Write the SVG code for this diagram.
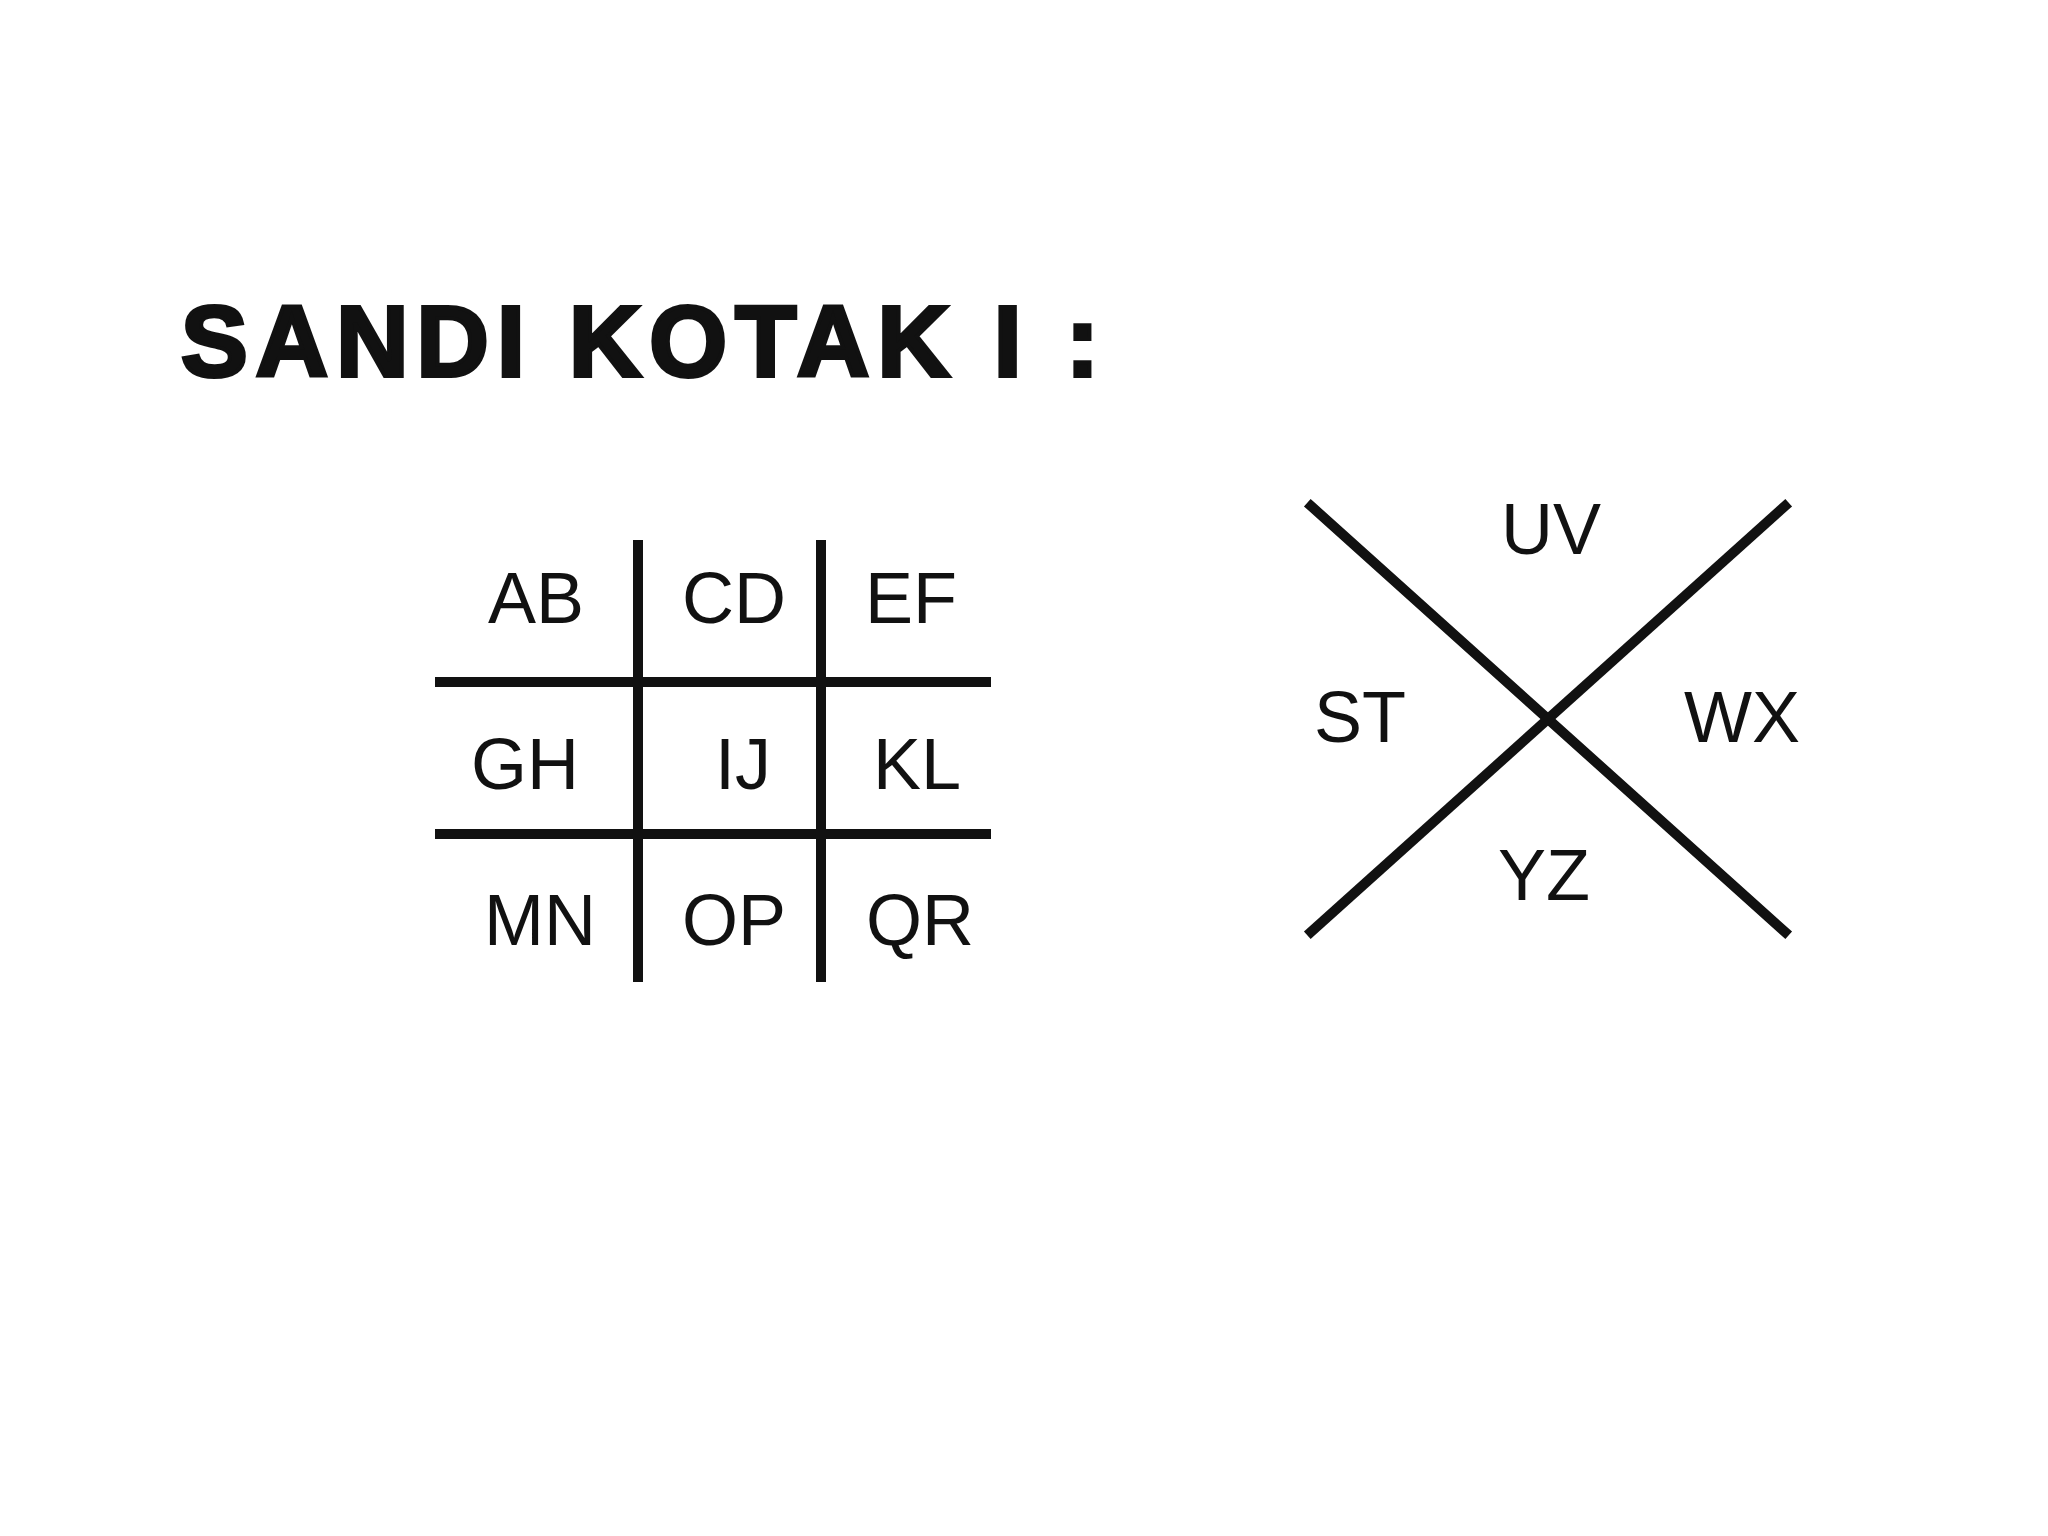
<svg xmlns="http://www.w3.org/2000/svg" width="2048" height="1536" viewBox="0 0 2048 1536">
<style>
.t{font-family:"Liberation Sans",Arial,sans-serif;font-size:72px;fill:#111;text-anchor:middle}
.l{stroke:#111;stroke-width:10;stroke-linecap:square}
</style>
<rect width="2048" height="1536" fill="#fff"/>
<g id="title"><text x="181" y="376" font-family="'Liberation Sans',Arial,sans-serif" font-weight="bold" font-size="100" fill="#111" stroke="#111" stroke-width="4" textLength="918">SANDI KOTAK I :</text></g>
<g id="connectors">
<line class="l" x1="638" y1="545" x2="638" y2="977"/>
<line class="l" x1="821" y1="545" x2="821" y2="977"/>
<line class="l" x1="440" y1="682" x2="986" y2="682"/>
<line class="l" x1="440" y1="834" x2="986" y2="834"/>
<line class="l" x1="1311" y1="506" x2="1785" y2="932"/>
<line class="l" x1="1785" y1="506" x2="1311" y2="932"/>
</g>
<g id="grid-labels">
<text class="t" x="536" y="623">AB</text>
<text class="t" x="734" y="623">CD</text>
<text class="t" x="911" y="623">EF</text>
<text class="t" x="525" y="789">GH</text>
<text class="t" x="743" y="789">IJ</text>
<text class="t" x="917" y="789">KL</text>
<text class="t" x="540" y="945">MN</text>
<text class="t" x="734" y="945">OP</text>
<text class="t" x="920" y="945">QR</text>
</g>
<g id="x-labels">
<text class="t" x="1551" y="554">UV</text>
<text class="t" x="1360" y="742">ST</text>
<text class="t" x="1742" y="742">WX</text>
<text class="t" x="1544" y="900">YZ</text>
</g>
</svg>
